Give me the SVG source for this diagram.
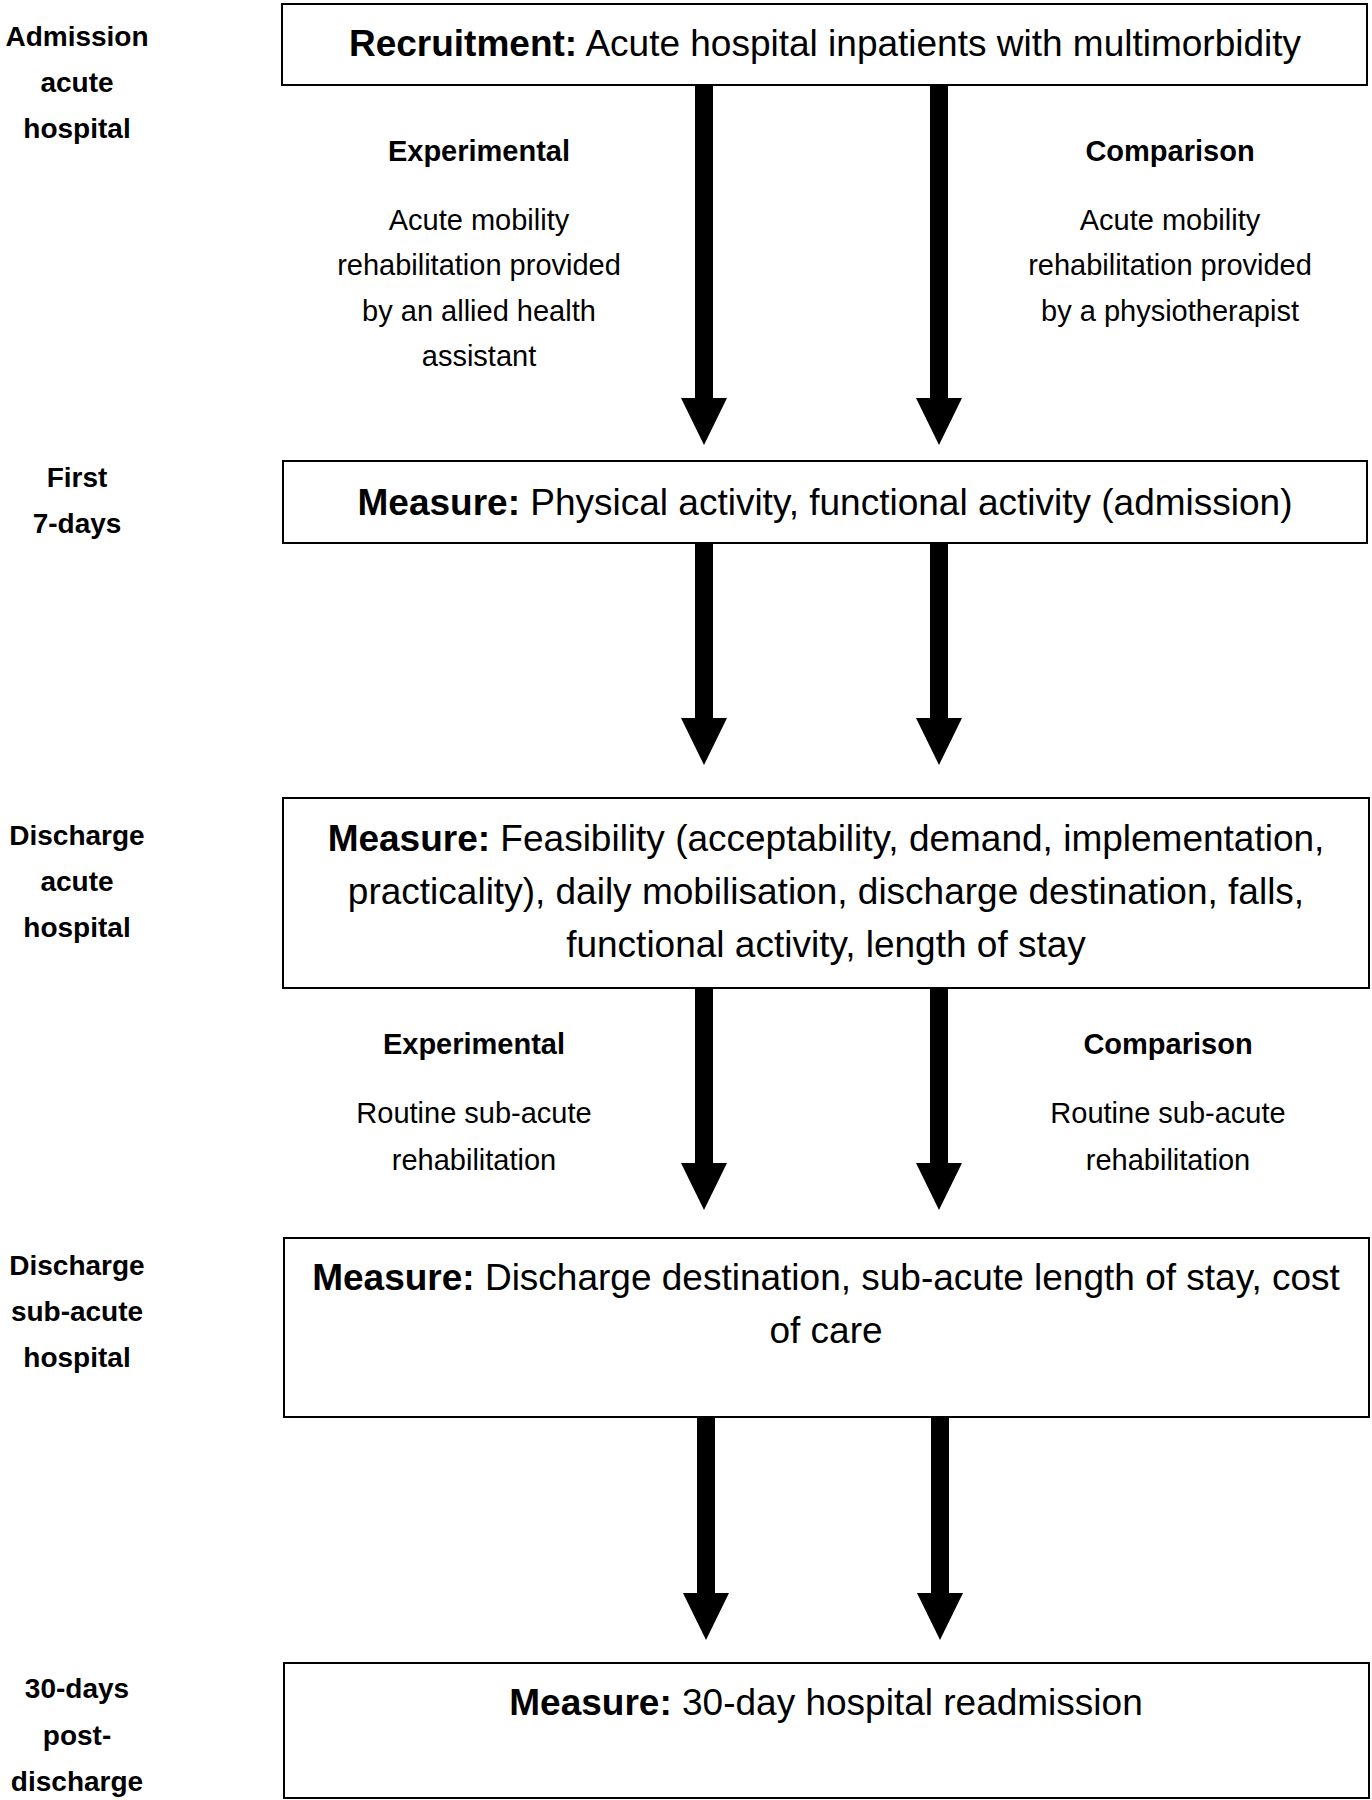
<svg xmlns="http://www.w3.org/2000/svg" width="1372" height="1800" viewBox="0 0 1372 1800">
<style>
.box{fill:#fff;stroke:#000;stroke-width:2}
text{font-family:"Liberation Sans",Arial,sans-serif;fill:#000;text-anchor:middle}
.bt{font-size:37px}
.lb{font-size:28px;font-weight:bold}
.hd{font-size:29px;font-weight:bold}
.ds{font-size:29px}
.sh{stroke:#000;stroke-width:18}
</style>
<defs>
<polygon id="head" points="-23,0 23,0 0,47" fill="#000"/>
</defs>
<rect width="1372" height="1800" fill="#fff"/>
<g id="labels">
<text class="lb" x="77" y="46">Admission</text>
<text class="lb" x="77" y="92">acute</text>
<text class="lb" x="77" y="138">hospital</text>
<text class="lb" x="77" y="487">First</text>
<text class="lb" x="77" y="533">7-days</text>
<text class="lb" x="77" y="845">Discharge</text>
<text class="lb" x="77" y="891">acute</text>
<text class="lb" x="77" y="937">hospital</text>
<text class="lb" x="77" y="1275">Discharge</text>
<text class="lb" x="77" y="1321">sub-acute</text>
<text class="lb" x="77" y="1367">hospital</text>
<text class="lb" x="77" y="1698">30-days</text>
<text class="lb" x="77" y="1745">post-</text>
<text class="lb" x="77" y="1791">discharge</text>
</g>
<g id="connectors">
<line class="sh" x1="704" y1="85" x2="704" y2="400"/><use href="#head" x="704" y="398"/>
<line class="sh" x1="939" y1="85" x2="939" y2="400"/><use href="#head" x="939" y="398"/>
<line class="sh" x1="704" y1="543" x2="704" y2="720"/><use href="#head" x="704" y="718"/>
<line class="sh" x1="939" y1="543" x2="939" y2="720"/><use href="#head" x="939" y="718"/>
<line class="sh" x1="704" y1="988" x2="704" y2="1165"/><use href="#head" x="704" y="1163"/>
<line class="sh" x1="939" y1="988" x2="939" y2="1165"/><use href="#head" x="939" y="1163"/>
<line class="sh" x1="706" y1="1417" x2="706" y2="1595"/><use href="#head" x="706" y="1593"/>
<line class="sh" x1="940" y1="1417" x2="940" y2="1595"/><use href="#head" x="940" y="1593"/>
</g>
<g id="arm1">
<text class="hd" x="479" y="161">Experimental</text>
<text class="ds" x="479" y="230">Acute mobility</text>
<text class="ds" x="479" y="275">rehabilitation provided</text>
<text class="ds" x="479" y="321">by an allied health</text>
<text class="ds" x="479" y="366">assistant</text>
<text class="hd" x="1170" y="161">Comparison</text>
<text class="ds" x="1170" y="230">Acute mobility</text>
<text class="ds" x="1170" y="275">rehabilitation provided</text>
<text class="ds" x="1170" y="321">by a physiotherapist</text>
</g>
<g id="arm2">
<text class="hd" x="474" y="1054">Experimental</text>
<text class="ds" x="474" y="1123">Routine sub-acute</text>
<text class="ds" x="474" y="1170">rehabilitation</text>
<text class="hd" x="1168" y="1054">Comparison</text>
<text class="ds" x="1168" y="1123">Routine sub-acute</text>
<text class="ds" x="1168" y="1170">rehabilitation</text>
</g>
<g id="box1"><rect class="box" x="282" y="4" width="1085" height="81"/>
<text class="bt" x="825" y="56"><tspan font-weight="bold">Recruitment:</tspan> Acute hospital inpatients with multimorbidity</text></g>
<g id="box2"><rect class="box" x="283" y="461" width="1084" height="82"/>
<text class="bt" x="825" y="515"><tspan font-weight="bold">Measure:</tspan> Physical activity, functional activity (admission)</text></g>
<g id="box3"><rect class="box" x="283" y="798" width="1086" height="190"/>
<text class="bt" x="826" y="851"><tspan font-weight="bold">Measure:</tspan> Feasibility (acceptability, demand, implementation,</text>
<text class="bt" x="826" y="904">practicality), daily mobilisation, discharge destination, falls,</text>
<text class="bt" x="826" y="957">functional activity, length of stay</text></g>
<g id="box4"><rect class="box" x="284" y="1238" width="1085" height="179"/>
<text class="bt" x="826" y="1290"><tspan font-weight="bold">Measure:</tspan> Discharge destination, sub-acute length of stay, cost</text>
<text class="bt" x="826" y="1343">of care</text></g>
<g id="box5"><rect class="box" x="284" y="1663" width="1085" height="135"/>
<text class="bt" x="826" y="1715"><tspan font-weight="bold">Measure:</tspan> 30-day hospital readmission</text></g>
</svg>
